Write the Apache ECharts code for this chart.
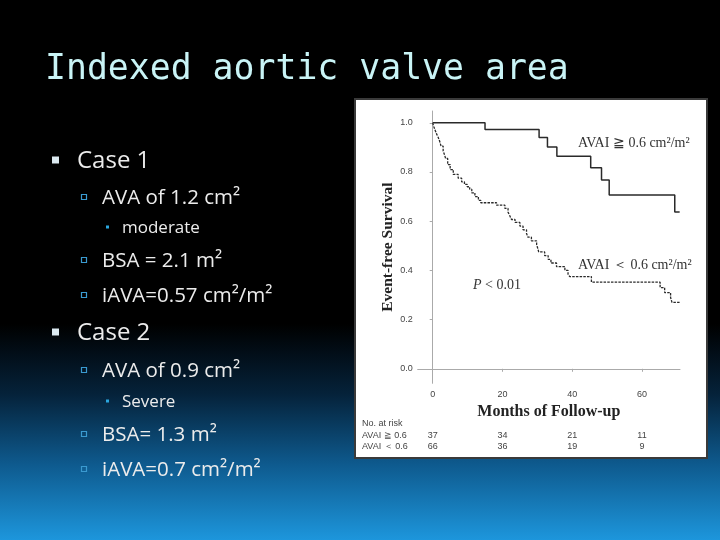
<!DOCTYPE html>
<html><head><meta charset="utf-8">
<script src="https://cdn.jsdelivr.net/npm/echarts@6/dist/echarts.min.js"></script>
<style>html,body{margin:0;padding:0;background:#000}#c{width:720px;height:540px}</style>
</head><body><div id="c"></div>
<script>
// Kaplan-Meier curves (months, event-free survival)
const highMonths = [0, 15.0, 30.5, 32.9, 35.6, 45.3, 48.4, 50.6, 69.4, 70.8];
const highSurv   = [1.0, 0.973, 0.940, 0.902, 0.864, 0.817, 0.767, 0.707, 0.637, 0.637];
const lowMonths = [0, 0.3, 0.7, 1.1, 1.6, 2.0, 2.4, 3.0, 3.4, 3.7, 4.3, 5.0, 5.9, 7.3, 8.3, 9.1, 9.9, 10.6, 11.2, 12.1, 13.1, 13.8,
  18.3, 20.7, 21.6, 22.1, 22.6, 23.6, 25.0, 25.9, 26.9, 27.3, 28.3, 29.8, 30.1, 30.4, 32.1, 33.1, 33.9, 35.5, 37.9, 38.8, 39.3,
  45.5, 65.2, 66.5, 68.2, 68.6, 70.8];
const lowSurv = [1.0, 0.985, 0.97, 0.955, 0.94, 0.925, 0.905, 0.885, 0.87, 0.855, 0.83, 0.81, 0.79, 0.775, 0.76, 0.75, 0.74, 0.73, 0.715, 0.70, 0.685, 0.675,
  0.665, 0.652, 0.637, 0.622, 0.607, 0.595, 0.58, 0.565, 0.55, 0.535, 0.52, 0.505, 0.49, 0.475, 0.46, 0.445, 0.43, 0.415, 0.40, 0.385, 0.375,
  0.352, 0.33, 0.31, 0.29, 0.27, 0.27];
const xTicks = [0, 20, 40, 60];
const yTicks = [0, 0.2, 0.4, 0.6, 0.8, 1.0];
const riskHigh = [37, 34, 21, 11];
const riskLow  = [66, 36, 19, 9];

const titleText = 'Indexed aortic valve area';
const slideLines = [
  {lvl: 0, text: 'Case 1', y: 161},
  {lvl: 1, text: 'AVA of 1.2 cm²', y: 198},
  {lvl: 2, text: 'moderate', y: 228},
  {lvl: 1, text: 'BSA = 2.1 m²', y: 261},
  {lvl: 1, text: 'iAVA=0.57 cm²/m²', y: 296},
  {lvl: 0, text: 'Case 2', y: 333},
  {lvl: 1, text: 'AVA of 0.9 cm²', y: 371},
  {lvl: 2, text: 'Severe', y: 402},
  {lvl: 1, text: 'BSA= 1.3 m²', y: 435},
  {lvl: 1, text: 'iAVA=0.7 cm²/m²', y: 470}
];

const SANS = '"Open Sans", "Noto Sans", sans-serif';
const SERIF = '"Liberation Serif", "DejaVu Serif", serif';
const SMALL = '"Liberation Sans", Arial, sans-serif';

const graphics = [];
graphics.push({type: 'rect', z: -100, silent: true, shape: {x: 0, y: 0, width: 720, height: 540},
  style: {fill: new echarts.graphic.LinearGradient(0, 0, 0, 1, [
    {offset: 0, color: '#000000'}, {offset: 0.6, color: '#000000'},
    {offset: 0.73, color: '#05223a'}, {offset: 0.86, color: '#0e5a8e'}, {offset: 1, color: '#1d96dc'}])}});
graphics.push({type: 'rect', z: -50, silent: true, shape: {x: 355, y: 99, width: 352, height: 359},
  style: {fill: '#ffffff', stroke: '#3a3a3a', lineWidth: 2}});
graphics.push({type: 'text', z: 10, style: {x: 45, y: 70, text: titleText, fill: '#c9f4f6',
  font: '34.8px "DejaVu Sans Mono", "Liberation Mono", monospace', verticalAlign: 'middle'}});
slideLines.forEach(l => {
  const fs = l.lvl === 0 ? 24 : (l.lvl === 1 ? 20.5 : 17);
  const tx = l.lvl === 0 ? 77 : (l.lvl === 1 ? 102 : 122);
  graphics.push({type: 'text', z: 10, style: {x: tx, y: l.y, text: l.text, fill: '#ececec',
    font: fs + 'px ' + SANS, verticalAlign: 'middle'}});
  const by = l.y - 1;
  if (l.lvl === 0) {
    graphics.push({type: 'rect', z: 10, shape: {x: 52, y: by - 3.5, width: 7, height: 7}, style: {fill: '#dbe9f0'}});
  } else if (l.lvl === 1) {
    graphics.push({type: 'rect', z: 10, shape: {x: 81.5, y: by - 2.5, width: 5, height: 5}, style: {fill: 'none', stroke: '#3a9ad0', lineWidth: 1.2}});
  } else {
    graphics.push({type: 'rect', z: 10, shape: {x: 106, y: by - 1.5, width: 3, height: 3}, style: {fill: '#2aa6de'}});
  }
});
// chart annotations
graphics.push({type: 'text', z: 10, style: {x: 578, y: 143, text: 'AVAI ≧ 0.6 cm²/m²', fill: '#333', font: '14px ' + SERIF, verticalAlign: 'middle'}});
graphics.push({type: 'text', z: 10, style: {x: 578, y: 265, text: 'AVAI ＜ 0.6 cm²/m²', fill: '#333', font: '14px ' + SERIF, verticalAlign: 'middle'}});
graphics.push({type: 'text', z: 10, style: {x: 473, y: 285, text: '{i|P} < 0.01', fill: '#333', font: '14px ' + SERIF, verticalAlign: 'middle',
  rich: {i: {fontStyle: 'italic', fontFamily: SERIF, fontSize: 14, fill: '#333'}}}});
graphics.push({type: 'text', z: 10, style: {x: 362, y: 423.5, text: 'No. at risk', fill: '#444', font: '9px ' + SMALL, verticalAlign: 'middle'}});
graphics.push({type: 'text', z: 10, style: {x: 362, y: 436, text: 'AVAI ≧ 0.6', fill: '#444', font: '9px ' + SMALL, verticalAlign: 'middle'}});
graphics.push({type: 'text', z: 10, style: {x: 362, y: 446.5, text: 'AVAI ＜ 0.6', fill: '#444', font: '9px ' + SMALL, verticalAlign: 'middle'}});

const riskAxis = (arr, off) => ({
  type: 'value', gridIndex: 0, position: 'bottom', offset: off, min: -4.3, max: 70.9,
  axisLine: {show: false}, axisTick: {show: false}, splitLine: {show: false},
  axisLabel: {customValues: xTicks, margin: 0, color: '#444', fontSize: 9, fontFamily: SMALL,
    formatter: v => String(arr[xTicks.indexOf(v)])}
});

const chart = echarts.init(document.getElementById('c'));
chart.setOption({
  animation: false,
  backgroundColor: 'transparent',
  graphic: graphics,
  grid: {left: 417.7, top: 111, right: 40, bottom: 156.7, containLabel: false},
  xAxis: [{
    type: 'value', min: -4.3, max: 70.9,
    name: 'Months of Follow-up', nameLocation: 'middle', nameGap: 21,
    nameTextStyle: {fontFamily: SERIF, fontWeight: 'bold', fontSize: 16, color: '#222'},
    axisLine: {lineStyle: {color: '#aaa', width: 1}},
    axisTick: {customValues: xTicks, length: 3, lineStyle: {color: '#aaa'}},
    axisLabel: {customValues: xTicks, margin: 6.5, color: '#444', fontSize: 9, fontFamily: SMALL},
    splitLine: {show: false}
  }, riskAxis(riskHigh, 48), riskAxis(riskLow, 58.5)],
  yAxis: {
    type: 'value', min: -0.059, max: 1.048,
    name: 'Event-free Survival', nameLocation: 'middle', nameGap: 16, nameRotate: 90,
    nameTextStyle: {fontFamily: SERIF, fontWeight: 'bold', fontSize: 15.5, color: '#222'},
    axisLine: {show: true, lineStyle: {color: '#aaa', width: 1}},
    axisTick: {show: true, customValues: yTicks, length: 3, lineStyle: {color: '#aaa'}},
    axisLabel: {customValues: yTicks, margin: 5, color: '#444', fontSize: 9, fontFamily: SMALL,
      formatter: v => v.toFixed(1)},
    splitLine: {show: false}
  },
  series: [{
    type: 'line', step: 'end', symbol: 'none', xAxisIndex: 0,
    data: highMonths.map((m, i) => [m, highSurv[i]]),
    lineStyle: {color: '#2a2a2a', width: 1.5}
  }, {
    type: 'line', step: 'end', symbol: 'none', xAxisIndex: 0,
    data: lowMonths.map((m, i) => [m, lowSurv[i]]),
    lineStyle: {color: '#2a2a2a', width: 1.3, type: [2.5, 1.2]}
  }]
});
</script></body></html>
